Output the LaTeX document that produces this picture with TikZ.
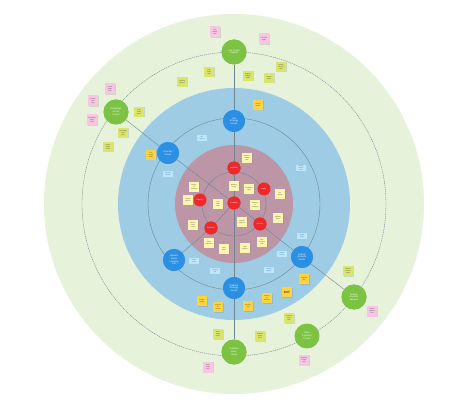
\documentclass[tikz,border=0pt]{standalone}
\usepackage{fontspec}
\setmainfont{Liberation Sans}
\usetikzlibrary{shadows}
\definecolor{ringgreen}{HTML}{E7F2DA}
\definecolor{ringblue}{HTML}{9DCCE4}
\definecolor{ringmauve}{HTML}{BC96A6}
\definecolor{nodeblue}{HTML}{2B8FE3}
\definecolor{nodegreen}{HTML}{7CC243}
\definecolor{nodered}{HTML}{EC2A2C}
\definecolor{notepale}{HTML}{FFF6AE}
\definecolor{noteorange}{HTML}{FFD33C}
\definecolor{notelime}{HTML}{D9E66B}
\definecolor{notepink}{HTML}{F8C6E3}
\definecolor{labelblue}{HTML}{BFE5F7}
\definecolor{labeltext}{HTML}{2C7FC0}
\definecolor{spoke}{HTML}{6F8593}
\tikzset{
  bubble/.style={circle, inner sep=0pt, align=center, text=white,
    font=\fontsize{2.3}{2.7}\selectfont},
  bluenode/.style={bubble, fill=nodeblue, minimum size=22pt},
  greennode/.style={bubble, fill=nodegreen, minimum size=25pt},
  rednode/.style={bubble, fill=nodered, minimum size=13pt,
    font=\fontsize{1.7}{2}\selectfont},
  sticky/.style={rectangle, inner sep=0.4pt, minimum width=10pt, minimum height=10pt,
    text width=9pt, align=center, text=black!75,
    font=\fontsize{1.5}{1.8}\selectfont,
    drop shadow={opacity=0.25, shadow xshift=0.5pt, shadow yshift=-0.5pt}},
  pale/.style={sticky, fill=notepale},
  orange/.style={sticky, fill=noteorange},
  lime/.style={sticky, fill=notelime},
  pinknote/.style={sticky, fill=notepink, minimum height=11pt},
  bluelabel/.style={rectangle, fill=labelblue, inner sep=0.5pt, minimum width=10pt,
    minimum height=6pt, text width=9pt, align=center, text=labeltext,
    font=\fontsize{1.5}{1.8}\selectfont},
  spokeline/.style={draw=spoke, line width=0.4pt},
  ringline/.style={draw=spoke, line width=0.4pt},
}
\begin{document}
\begin{tikzpicture}[x=1pt,y=-1pt]
\fill[white] (0,0) rectangle (474,406);
\useasboundingbox (0,0) rectangle (474,406);
\coordinate (c) at (234,204);
% rings
\fill[ringgreen] (c) circle[radius=190pt];
\draw[ringline, dash pattern=on 1.2pt off 0.8pt] (c) circle[radius=152pt];
\fill[ringblue] (c) circle[radius=116pt];
\draw[ringline] (c) circle[radius=86pt];
\fill[ringmauve] (c) circle[radius=59pt];
\draw[ringline] (c) circle[radius=32pt];

% nodes
\node[rednode] (r0) at (234,203) {Creativity};
\node[rednode] (r1) at (234,168) {Inspiration};
\node[rednode] (r2) at (264,189) {Agility};
\node[rednode] (r3) at (200,200) {Empathy};
\node[rednode] (r4) at (211,228) {Resilience};
\node[rednode] (r5) at (260,224) {Curiosity};

\node[bluenode] (b1) at (234,121) {Life\\Strategy\\Center};
\node[bluenode] (b2) at (168,153) {Curiosity\\Center};
\node[bluenode] (b3) at (302,257) {Activity\\Analysis\\Center};
\node[bluenode] (b4) at (174,260) {Student\\Action\\Learning\\Lab};
\node[bluenode] (b5) at (234,288) {Platform\\Strategy\\Center};

\node[greennode] (g1) at (234,52) {Life Coach\\Program};
\node[greennode] (g2) at (116,112) {Knowledge\\Center\\Project};
\node[greennode] (g3) at (354,297) {Activity\\Analysis\\Network};
\node[greennode] (g4) at (234,352) {Creative\\Book\\Study};
\node[greennode] (g5) at (307,336) {Data\\Cognition\\Project};

% spokes
\path[spokeline] (r0) -- (r1) (r1) -- (b1) (b1) -- (g1);
\path[spokeline] (r0) -- (b2) (b2) -- (g2);
\path[spokeline] (r0) -- (r5) (r5) -- (b3) (b3) -- (g3);
\path[spokeline] (r0) -- (r4) (r4) -- (b4);
\path[spokeline] (r0) -- (b5) (b5) -- (g4);

% redraw nodes on top of spokes
\node[rednode] at (r0) {Creativity};
\node[rednode] at (r1) {Inspiration};
\node[rednode] at (r4) {Resilience};
\node[rednode] at (r5) {Curiosity};
\node[bluenode] at (b1) {Life\\Strategy\\Center};
\node[bluenode] at (b2) {Curiosity\\Center};
\node[bluenode] at (b3) {Activity\\Analysis\\Center};
\node[bluenode] at (b4) {Student\\Action\\Learning\\Lab};
\node[bluenode] at (b5) {Platform\\Strategy\\Center};
\node[greennode] at (g1) {Life Coach\\Program};
\node[greennode] at (g2) {Knowledge\\Center\\Project};
\node[greennode] at (g3) {Activity\\Analysis\\Network};
\node[greennode] at (g4) {Creative\\Book\\Study};

% pale notes (inner)
\node[pale] (p1) at (247,158) {Personal\\Growth\\Plan};
\node[pale] (p2) at (194,187) {Design\\of\\Learning};
\node[pale] (p3) at (234,186) {Reading\\Group};
\node[pale] (p4) at (249,189) {Challenge\\Map};
\node[pale] (p5) at (188,200) {Change\\Resolve};
\node[pale] (p6) at (218,204) {Day\\Night\\Map};
\node[pale] (p7) at (255,205) {Balance\\of\\Learning};
\node[pale] (p8) at (280,194) {Life\\Activity};
\node[pale] (p9) at (278,218) {Building\\Ideas};
\node[pale] (p10) at (242,222) {Growth\\Analysis};
\node[pale] (p11) at (193,225) {Design\\Focus\\Group};
\node[pale] (p12) at (262,242) {Idea\\Creation\\Map};
\node[pale] (p13) at (209,243) {Data\\Collection};
\node[pale] (p14) at (224,249) {Story\\Map};
\node[pale] (p15) at (245,248) {Data\\Analysis};

% orange notes (blue ring)
\node[orange] (o1) at (258,105) {Activity\\Outline};
\node[orange] (o2) at (151,155) {Life\\Growth\\Study};
\node[orange] (o3) at (304,279) {Program\\Plan};
\node[orange, font=\fontsize{3}{3.4}\selectfont\bfseries] (o4) at (287,292) {EXT};
\node[orange] (o5) at (267,298) {Network\\of\\Learners};
\node[orange] (o6) at (202,301) {Creative\\Activity};
\node[orange] (o7) at (218,307) {Program\\of\\Growth};
\node[orange] (o8) at (248,306) {Reading\\Plan};

% light blue labels
\node[bluelabel] (l1) at (202,138) {Life\\Dream};
\node[bluelabel] (l2) at (168,174) {Student\\Growth};
\node[bluelabel] (l3) at (301,168) {Activity\\Growth\\Plan};
\node[bluelabel] (l4) at (302,236) {Group\\Study};
\node[bluelabel] (l5) at (282,254) {Activity\\Genre};
\node[bluelabel] (l6) at (269,270) {Activity\\Outline};
\node[bluelabel] (l7) at (194,261) {Action\\Plan};
\node[bluelabel] (l8) at (215,271) {Learning\\Lab};

% lime notes (green ring)
\node[lime] (y1) at (182,82) {Learning\\Network};
\node[lime] (y2) at (209,72) {Idea\\Study\\Plan};
\node[lime] (y3) at (248,76) {Program\\Analysis\\Guide};
\node[lime] (y4) at (269,78) {Growth\\Guide};
\node[lime] (y5) at (281,67) {Activity\\Review\\Map};
\node[lime] (y6) at (139,112) {Data\\Study\\Notes};
\node[lime] (y7) at (123,133) {Knowledge\\Data\\Map};
\node[lime] (y8) at (108,147) {Center\\Study\\Guide};
\node[lime] (y9) at (348,271) {Network\\Growth\\Guide};
\node[lime] (y10) at (289,318) {Cognition\\Data\\Map};
\node[lime] (y11) at (218,334) {Book\\Study\\Group};
\node[lime] (y12) at (260,336) {Reading\\Study\\Notes};

% pink notes (outer)
\node[pinknote] (k1) at (215,32) {Life\\Mobile\\Idea};
\node[pinknote] (k2) at (264,39) {Life Goal\\Study};
\node[pinknote] (k3) at (110,89) {Center\\Study\\Idea};
\node[pinknote] (k4) at (93,101) {Project\\Idea\\Map};
\node[pinknote] (k5) at (92,120) {Knowledge\\Study\\Group};
\node[pinknote] (k6) at (372,311) {Activity\\Network\\Idea};
\node[pinknote] (k7) at (208,367) {Book\\Study\\Idea};
\node[pinknote] (k8) at (304,360) {Cognition\\Project\\Idea};
\end{tikzpicture}
\end{document}
